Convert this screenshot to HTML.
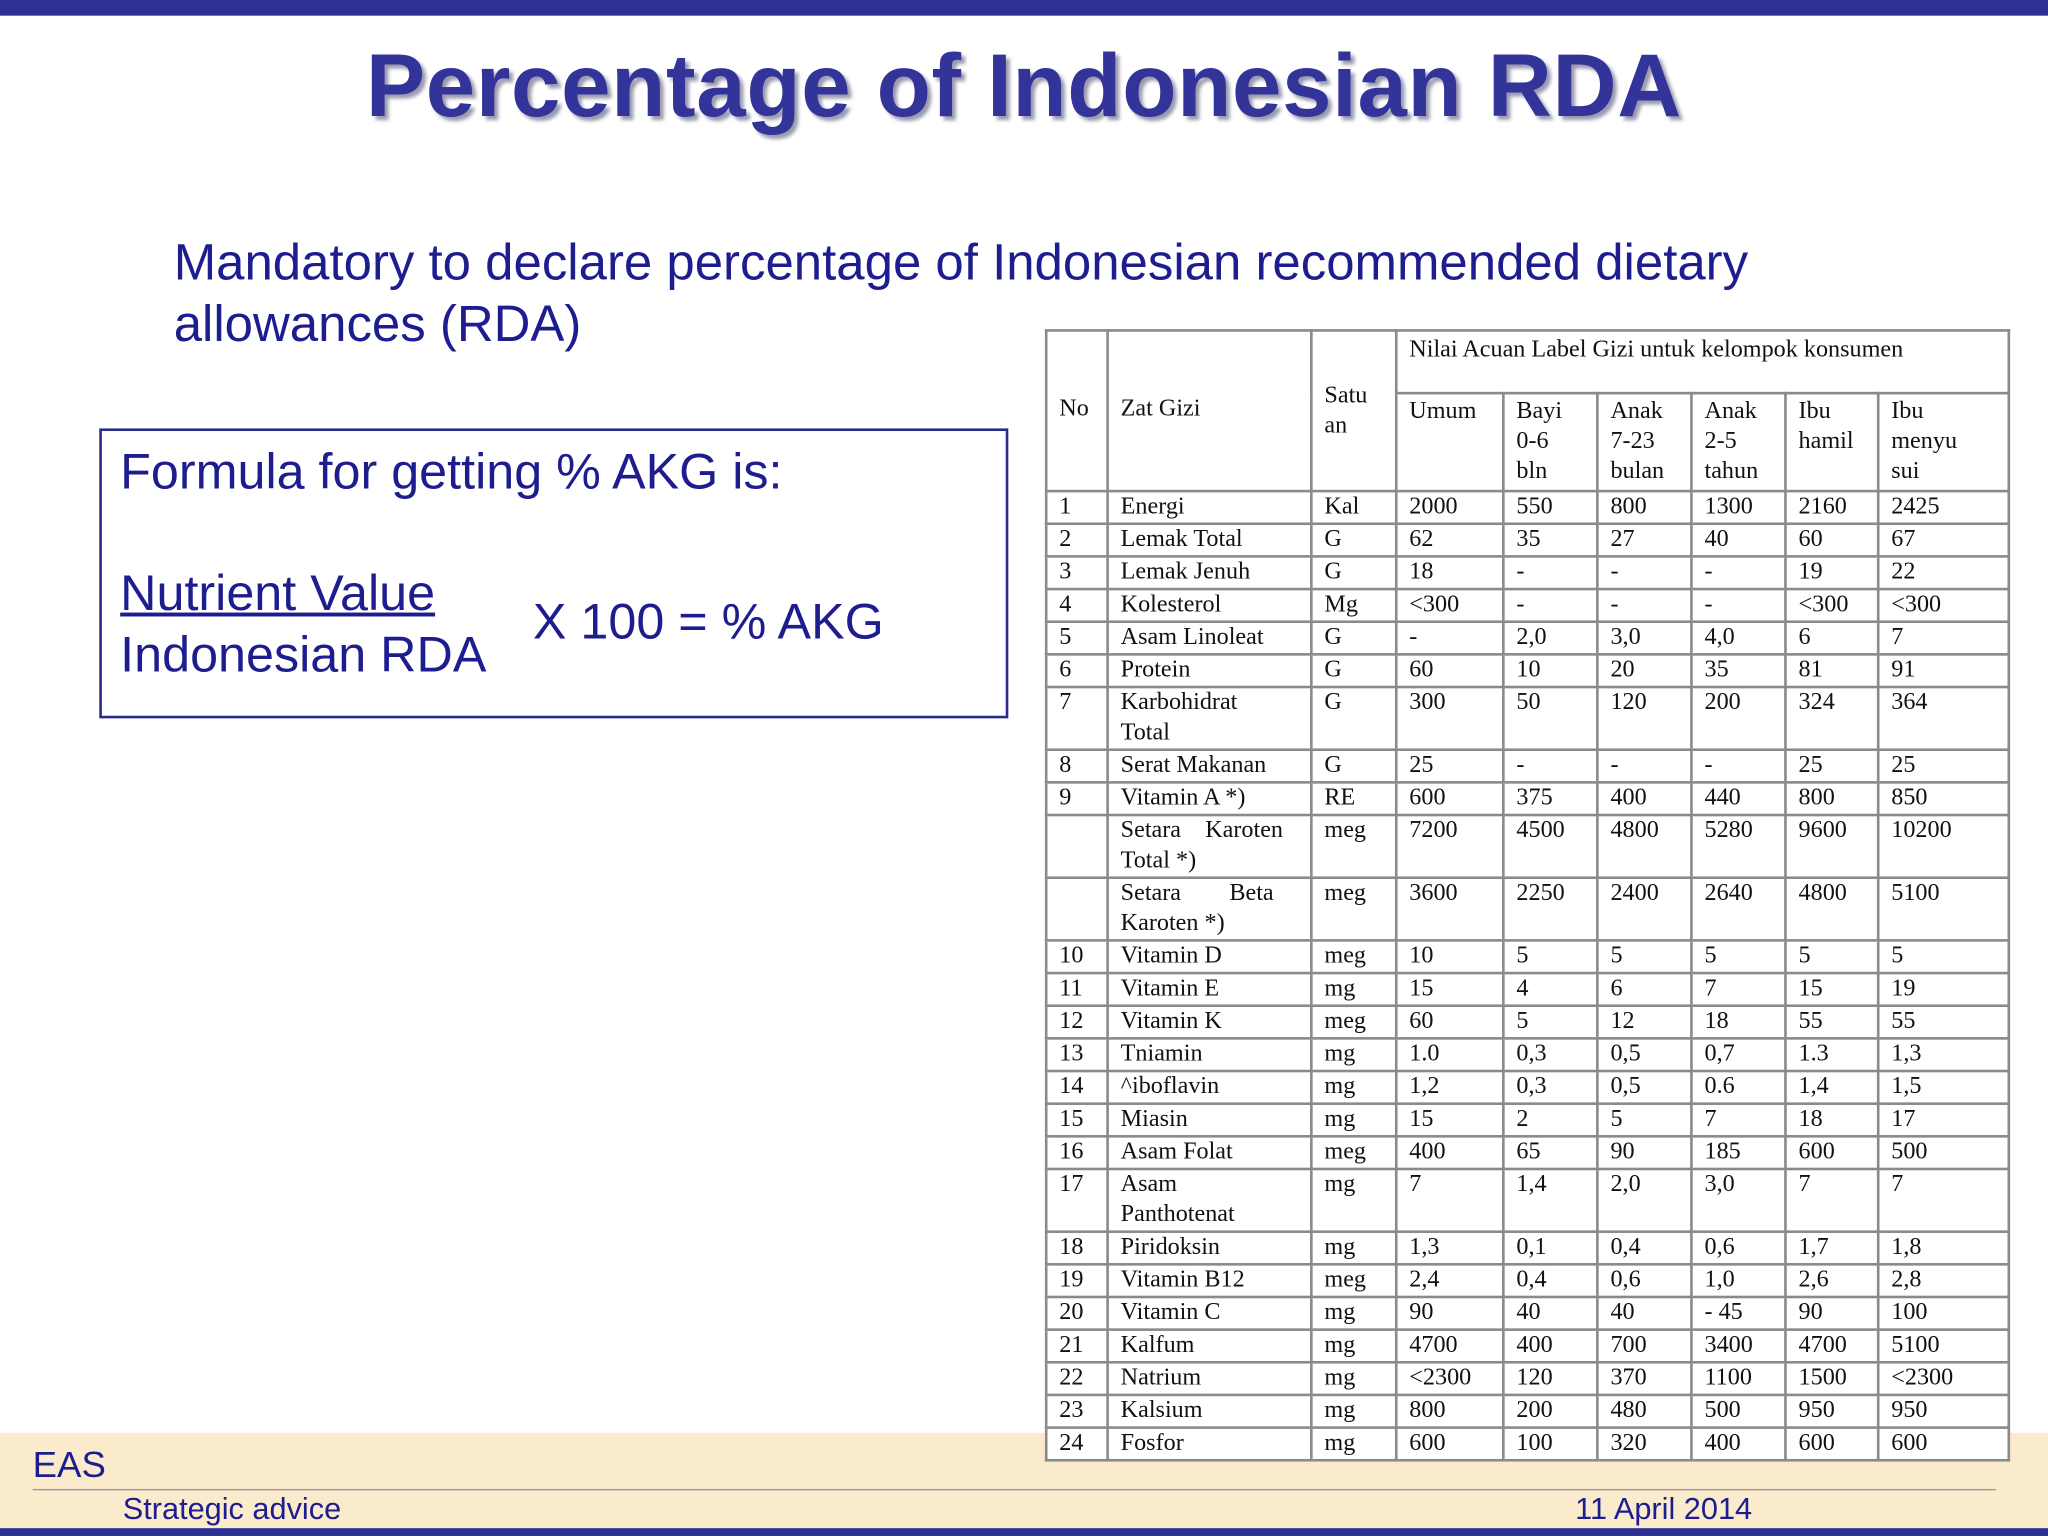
<!DOCTYPE html>
<html><head><meta charset="utf-8">
<style>
html,body{margin:0;padding:0;background:#fff;width:2048px;height:1536px;overflow:hidden}
#s{position:absolute;left:0;top:0;width:1568px;height:1176px;transform:scale(1.306122);transform-origin:0 0;font-family:"Liberation Sans",Arial,sans-serif}
.a{position:absolute}
#title{left:0;width:1568px;top:27px;text-align:center;font-weight:bold;font-size:68px;color:#33349a;text-shadow:3px 3px 3px #9a9ab0;letter-spacing:0.5px}
.sub{left:133px;font-size:39px;color:#1d1d8f}
#box{left:76px;top:328px;width:692px;height:218px;border:2px solid #2a2a8a}
.bt{font-size:38.5px;color:#1d1d8f}
#foot{left:0;top:1097px;width:1568px;height:73px;background:#f9ebcb}
table{border-collapse:collapse;font-family:"Liberation Serif",serif;font-size:18.5px;color:#111;table-layout:fixed;background:#fff}
td{border:2px solid #8a8a8a;vertical-align:top;padding:0 0 0 9px;line-height:23px;height:23px;overflow:hidden}
</style></head><body>
<div id="s">
<div class="a" style="left:0;top:0;width:1568px;height:12px;background:#2f3192"></div>
<div class="a" id="title">Percentage of Indonesian RDA</div>
<div class="a sub" style="top:180px">Mandatory to declare percentage of Indonesian recommended dietary</div>
<div class="a sub" style="top:227px">allowances (RDA)</div>
<div class="a" id="box">
<div class="a bt" style="left:14px;top:10px">Formula for getting % AKG is:</div>
<div class="a bt" style="left:14px;top:103px;text-decoration:underline">Nutrient Value</div>
<div class="a bt" style="left:14px;top:150px">Indonesian RDA</div>
<div class="a bt" style="left:330px;top:125px">X 100 = % AKG</div>
</div>
<div class="a" id="foot"></div>
<div class="a" style="left:25px;top:1106px;font-size:28px;color:#1d1d8f">EAS</div>
<div class="a" style="left:25px;top:1140px;width:1503px;height:1px;background:#9a8fb0"></div>
<div class="a" style="left:94px;top:1142px;font-size:23.5px;color:#1d1d8f">Strategic advice</div>
<div class="a" style="left:1206px;top:1142px;font-size:23.5px;color:#1d1d8f">11 April 2014</div>
<div class="a" style="left:0;top:1170px;width:1568px;height:6px;background:#2f3192"></div>
<table class="a" style="left:800px;top:252px;width:737px">
<colgroup><col style="width:47px"><col style="width:156px"><col style="width:65px"><col style="width:82px"><col style="width:72px"><col style="width:72px"><col style="width:72px"><col style="width:71px"><col style="width:100px"></colgroup>
<tbody id="tb">
<tr><td rowspan="2" style="padding-top:48px">No</td><td rowspan="2" style="padding-top:48px">Zat Gizi</td><td rowspan="2" style="padding-top:38px">Satu<br>an</td><td colspan="6" style="height:43px;padding-top:3px">Nilai Acuan Label Gizi untuk kelompok konsumen</td></tr>
<tr><td style="height:71px;padding-top:2px">Umum</td><td style="padding-top:2px">Bayi<br>0-6<br>bln</td><td style="padding-top:2px">Anak<br>7-23<br>bulan</td><td style="padding-top:2px">Anak<br>2-5<br>tahun</td><td style="padding-top:2px">Ibu<br>hamil</td><td style="padding-top:2px">Ibu<br>menyu<br>sui</td></tr>
</tbody></table>
</div>
<script>
const rows=[
["1","Energi","Kal","2000","550","800","1300","2160","2425"],
["2","Lemak Total","G","62","35","27","40","60","67"],
["3","Lemak Jenuh","G","18","-","-","-","19","22"],
["4","Kolesterol","Mg","<300","-","-","-","<300","<300"],
["5","Asam Linoleat","G","-","2,0","3,0","4,0","6","7"],
["6","Protein","G","60","10","20","35","81","91"],
["7","Karbohidrat<br>Total","G","300","50","120","200","324","364"],
["8","Serat Makanan","G","25","-","-","-","25","25"],
["9","Vitamin A *)","RE","600","375","400","440","800","850"],
["","Setara &nbsp;&nbsp; Karoten<br>Total *)","meg","7200","4500","4800","5280","9600","10200"],
["","Setara &nbsp;&nbsp;&nbsp;&nbsp;&nbsp;&nbsp; Beta<br>Karoten *)","meg","3600","2250","2400","2640","4800","5100"],
["10","Vitamin D","meg","10","5","5","5","5","5"],
["11","Vitamin E","mg","15","4","6","7","15","19"],
["12","Vitamin K","meg","60","5","12","18","55","55"],
["13","Tniamin","mg","1.0","0,3","0,5","0,7","1.3","1,3"],
["14","^iboflavin","mg","1,2","0,3","0,5","0.6","1,4","1,5"],
["15","Miasin","mg","15","2","5","7","18","17"],
["16","Asam Folat","meg","400","65","90","185","600","500"],
["17","Asam<br>Panthotenat","mg","7","1,4","2,0","3,0","7","7"],
["18","Piridoksin","mg","1,3","0,1","0,4","0,6","1,7","1,8"],
["19","Vitamin B12","meg","2,4","0,4","0,6","1,0","2,6","2,8"],
["20","Vitamin C","mg","90","40","40","- 45","90","100"],
["21","Kalfum","mg","4700","400","700","3400","4700","5100"],
["22","Natrium","mg","<2300","120","370","1100","1500","<2300"],
["23","Kalsium","mg","800","200","480","500","950","950"],
["24","Fosfor","mg","600","100","320","400","600","600"]];
const tb=document.getElementById('tb');
rows.forEach((r,i)=>{
 const tr=document.createElement('tr');
 
 
 r.forEach(c=>{const td=document.createElement('td');if(c.includes('<br>'))td.innerHTML=c;else td.textContent=c;tr.appendChild(td);});
 tb.appendChild(tr);
});
</script>
</body></html>
